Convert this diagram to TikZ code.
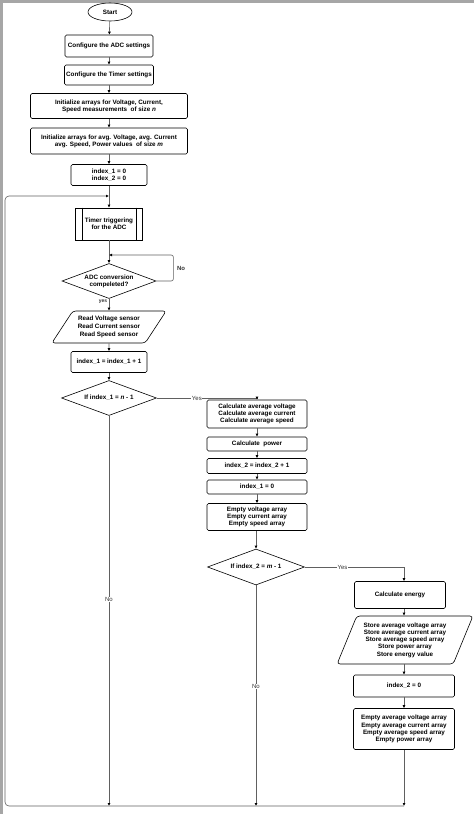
\documentclass[tikz,border=0pt]{standalone}
\usepackage{fontspec}
\setmainfont{Liberation Sans}
\usetikzlibrary{shapes.geometric,arrows.meta}

\begin{document}
\begin{tikzpicture}[x=1pt, y=-1pt,
    font=\fontsize{6.3}{7.2}\selectfont\bfseries,
    proc/.style={draw, rounded corners=1.5pt, align=center, inner sep=1pt, line width=0.6pt},
    io/.style={draw, trapezium, trapezium stretches=true, rounded corners=3pt, align=center, inner sep=0pt, line width=0.6pt},
    cond/.style={draw, diamond, aspect=2.7, inner sep=0pt, align=center, line width=0.6pt},
    flow/.style={gray!75!black, line width=0.6pt, -{Latex[color=black, length=3pt, width=3pt]}},
    lbl/.style={font=\fontsize{6}{7}\selectfont, text=black!80, fill=white, inner sep=0.5pt}
  ]
    \useasboundingbox (0,0) rectangle (474,814);
    \draw[gray!70, line width=2.5pt] (1.25,814) -- (1.25,1.25) -- (474,1.25);

    % main column
    \node[draw, ellipse, minimum width=44pt, minimum height=18pt, line width=0.6pt] (start) at (110,12) {Start};
    \node[proc, minimum width=88pt, minimum height=22pt] (adc) at (109,46) {Configure the ADC settings};
    \node[proc, minimum width=89pt, minimum height=20pt] (timer) at (109,75) {Configure the Timer settings};
    \node[proc, minimum width=157pt, minimum height=25pt] (initA) at (109,106) {Initialize arrays for Voltage, Current,\\Speed measurements\ \ of size \textit{n}};
    \node[proc, minimum width=157pt, minimum height=26pt] (initB) at (109,141) {Initialize arrays for avg. Voltage, avg. Current\\avg. Speed, Power values\ \ of size \textit{m}};
    \node[proc, minimum width=76pt, minimum height=21pt] (idx) at (109,175) {index\_1 = 0\\index\_2 = 0};
    \node[draw, minimum width=67pt, minimum height=32pt, align=center, line width=0.6pt] (trig) at (109,224) {Timer triggering\\for the ADC};
    \draw[line width=0.5pt] ([xshift=7pt]trig.north west) -- ([xshift=7pt]trig.south west);
    \draw[line width=0.5pt] ([xshift=-7pt]trig.north east) -- ([xshift=-7pt]trig.south east);
    \node[cond, minimum width=94pt, minimum height=35pt] (conv) at (109,281) {ADC conversion\\compeleted?};
    \node[io, trapezium left angle=51, trapezium right angle=129, minimum width=115pt, minimum height=32pt] (read) at (109,327) {Read Voltage sensor\\[1pt]Read Current sensor\\[1pt]Read Speed sensor};
    \node[proc, minimum width=76pt, minimum height=21pt] (inc) at (109,362) {index\_1 = index\_1 + 1};
    \node[cond, minimum width=95pt, minimum height=35pt] (ifA) at (109,398) {If index\_1 = \textit{n} - 1};

    % second column
    \node[proc, minimum width=100pt, minimum height=28pt] (avg) at (257,414) {Calculate average voltage\\Calculate average current\\Calculate average speed};
    \node[proc, minimum width=100pt, minimum height=14pt] (pow) at (257,444) {Calculate\ \ power};
    \node[proc, minimum width=100pt, minimum height=15pt] (incB) at (257,466) {index\_2 = index\_2 + 1};
    \node[proc, minimum width=100pt, minimum height=14pt] (reset) at (257,487) {index\_1 = 0};
    \node[proc, minimum width=100pt, minimum height=27pt] (empty) at (257,517) {Empty voltage array\\Empty current array\\Empty speed array};
    \node[cond, minimum width=97pt, minimum height=36pt] (ifB) at (256,567) {If index\_2 = \textit{m} - 1};

    % third column
    \node[proc, minimum width=91pt, minimum height=27pt] (energy) at (400,595) {Calculate energy};
    \node[io, trapezium left angle=64, trapezium right angle=116, minimum width=136pt, minimum height=48pt] (store) at (405,640) {Store average voltage array\\Store average current array\\Store average speed array\\Store power array\\Store energy value};
    \node[proc, minimum width=101pt, minimum height=22pt] (zero) at (404,686) {index\_2 = 0};
    \node[proc, minimum width=101pt, minimum height=41pt] (emptyB) at (404,729) {Empty average voltage array\\Empty average current array\\Empty average speed array\\Empty power array};

    % joins
    \coordinate (ret) at (109,196);
    \coordinate (noin) at (109,255);
    \coordinate (jA) at (109,806);
    \coordinate (jB) at (256,806);
    \coordinate (jC) at (404,806);
    \coordinate (bl) at (5,806);

    \draw[flow] (start) -- (adc);
    \draw[flow] (adc) -- (timer);
    \draw[flow] (timer) -- (initA);
    \draw[flow] (initA) -- (initB);
    \draw[flow] (initB) -- (idx);
    \draw[flow] (idx) -- (trig);
    \draw[flow] (trig) -- (conv);
    \draw[flow, rounded corners=2pt] (conv.east) -- ++(17,0) |- (noin) node[lbl, pos=0.25, right=3pt, font=\fontsize{6}{7}\selectfont\bfseries] {No};
    \draw[flow] (conv) -- (read) node[lbl, pos=0.2, left=1pt, font=\fontsize{5}{6}\selectfont\bfseries] {yes};
    \draw[flow] (read) -- (inc);
    \draw[flow] (inc) -- (ifA);
    \draw[flow] (ifA.east) -| (avg.north) node[lbl, pos=0.2] {Yes};
    \draw[flow] (avg) -- (pow);
    \draw[flow] (pow) -- (incB);
    \draw[flow] (incB) -- (reset);
    \draw[flow] (reset) -- (empty);
    \draw[flow] (empty.south -| ifB.north) -- (ifB.north);
    \draw[flow] (ifB.east) -| ([xshift=4pt]energy.north) node[lbl, pos=0.19] {Yes};
    \draw[flow] ([xshift=4pt]energy.south) -- (store.north -| zero.north);
    \draw[flow] (store.south -| zero.north) -- (zero);
    \draw[flow] (zero) -- (emptyB);
    \draw[flow] (emptyB) -- (jC);
    \draw[flow] (ifA.south) -- (jA) node[lbl, pos=0.47] {No};
    \draw[flow] (ifB.south) -- (jB) node[lbl, pos=0.46] {No};
    \draw[flow, rounded corners=4pt] (jC) -- (bl) |- (ret);
\end{tikzpicture}
\end{document}
